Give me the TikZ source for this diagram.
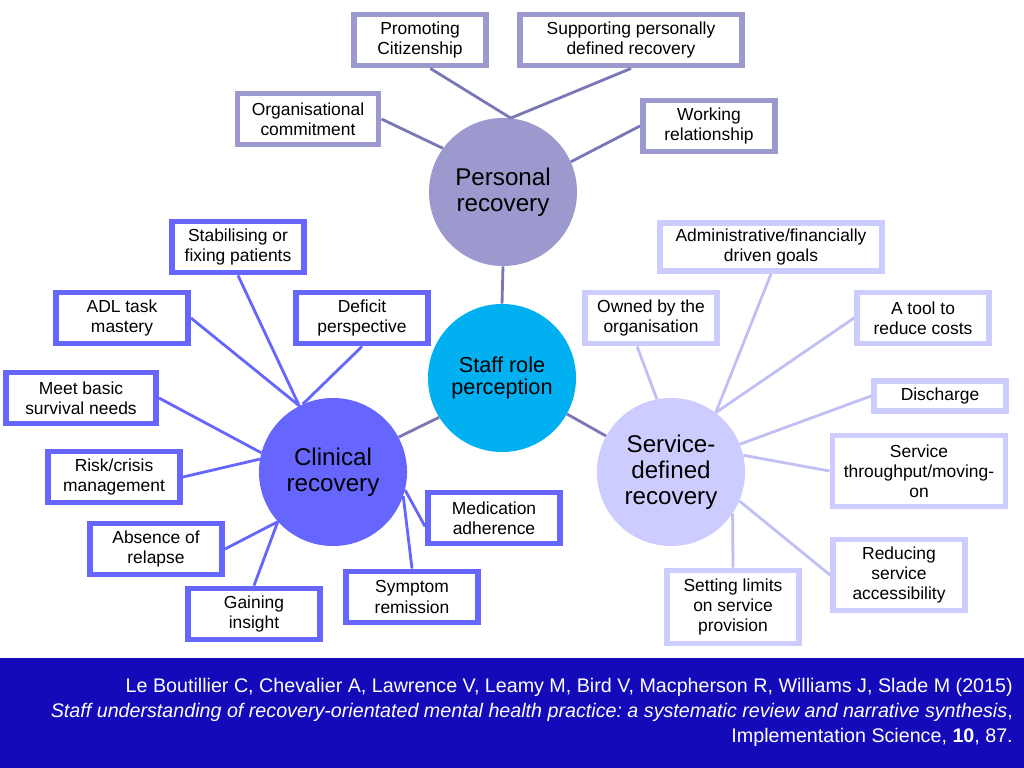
\documentclass[tikz,border=0pt]{standalone}
\usepackage{fontspec}
\setmainfont{Liberation Sans}
\frenchspacing
\definecolor{perscol}{RGB}{155,153,205}
\definecolor{persline}{RGB}{122,119,182}
\definecolor{clincol}{RGB}{102,102,255}
\definecolor{servcol}{RGB}{204,204,255}
\definecolor{servline}{RGB}{192,192,246}
\definecolor{staffcol}{RGB}{0,176,240}
\definecolor{footcol}{RGB}{20,10,185}
\newcommand*{\boxfont}{\fontsize{12.4}{14.3}\selectfont}
\newcommand*{\hubfont}{\fontsize{17.2}{18.5}\selectfont}

\begin{document}
\begin{tikzpicture}[x=0.025cm, y=-0.025cm,
        box/.style={draw, line width=4.2pt, fill=white, align=center, inner sep=2pt,
            minimum width=3.3cm, minimum height=1.275cm, font=\boxfont},
        hub/.style={circle, minimum size=3.7cm, inner sep=0pt, align=center, font=\hubfont},
        link/.style={line width=2pt}]
        \useasboundingbox (0,0) rectangle (1024,768);
        \fill[white] (0,0) rectangle (1024,768);

        % hubs
        \node[hub, fill=perscol] (personal) at (503,192) {Personal\\recovery};
        \node[hub, fill=staffcol, font=\fontsize{15.4}{15.6}\selectfont] (staff) at (502,378) {Staff role\\perception};
        \node[hub, fill=clincol] (clinical) at (333,472) {Clinical\\recovery};
        \node[hub, fill=servcol] (service) at (671,472) {Service-\\defined\\recovery};

        % personal recovery
        \node[box, draw=perscol] (citizen) at (420,40) {Promoting\\Citizenship};
        \node[box, draw=perscol, minimum width=5.55cm] (supporting) at (631,40) {Supporting personally\\defined recovery};
        \node[box, draw=perscol, minimum width=3.525cm] (orgcommit) at (308,119) {Organisational\\commitment};
        \node[box, draw=perscol] (working) at (709,126) {Working\\relationship};

        % clinical recovery
        \node[box, draw=clincol] (stabilising) at (238,247) {Stabilising or\\fixing patients};
        \node[box, draw=clincol] (adl) at (122,318) {ADL task\\mastery};
        \node[box, draw=clincol] (deficit) at (362,318) {Deficit\\perspective};
        \node[box, draw=clincol, minimum width=3.75cm] (survival) at (81,398) {Meet basic\\survival needs};
        \node[box, draw=clincol] (risk) at (114,477) {Risk/crisis\\management};
        \node[box, draw=clincol] (relapse) at (156,549) {Absence of\\relapse};
        \node[box, draw=clincol] (insight) at (254,614) {Gaining\\insight};
        \node[box, draw=clincol] (symptom) at (412,597) {Symptom\\remission};
        \node[box, draw=clincol] (medication) at (494,518) {Medication\\adherence};

        % service-defined recovery
        \node[box, draw=servcol, minimum width=5.55cm, minimum height=1.2cm] (admin) at (771,247) {Administrative/financially\\driven goals};
        \node[box, draw=servcol] (owned) at (651,318) {Owned by the\\organisation};
        \node[box, draw=servcol] (costs) at (923,318) {A tool to\\reduce costs};
        \node[box, draw=servcol, minimum height=0.75cm] (discharge) at (940,396) {Discharge};
        \node[box, draw=servcol, minimum width=4.325cm, minimum height=1.775cm] (throughput) at (919,471) {Service\\throughput/moving-\\on};
        \node[box, draw=servcol, minimum height=1.775cm] (reducing) at (899,575) {Reducing\\service\\accessibility};
        \node[box, draw=servcol, minimum height=1.825cm] (limits) at (733,607) {Setting limits\\on service\\provision};

        % links
        \foreach \b/\s/\a in {citizen/-70/84, supporting/south/84, orgcommit/east/144, working/west/24}
            \draw[link, persline] (\b.\s) -- (personal.\a);
        \foreach \b/\s/\a in {stabilising/south/117, adl/east/117, deficit/south/114, survival/east/165,
                risk/east/170, relapse/east/222, insight/north/222, symptom/north/341, medication/187/346}
            \draw[link, clincol] (\b.\s) -- (clinical.\a);
        \foreach \b/\s/\a in {admin/south/53, owned/244/101, costs/west/53, discharge/west/22,
                throughput/west/13, reducing/west/-23, limits/north/-34}
            \draw[link, servline] (\b.\s) -- (service.\a);
        \draw[link, persline] (personal.south) -- (staff.north);
        \draw[link, persline] (clinical.28) -- (staff.212);
        \draw[link, persline] (staff.-29) -- (service.151);

        % reference
        \fill[footcol] (0,658) rectangle (1024,768);
        \node[anchor=east, align=right, inner sep=0pt, text=white, font=\fontsize{14}{17.8}\selectfont] (cite) at (1013,712)
            {Le Boutillier C, Chevalier A, Lawrence V, Leamy M, Bird V, Macpherson R, Williams J, Slade M (2015)\\
             \textit{Staff understanding of recovery-orientated mental health practice: a systematic review and narrative synthesis},\\
             Implementation Science, \textbf{10}, 87.};
\end{tikzpicture}
\end{document}
